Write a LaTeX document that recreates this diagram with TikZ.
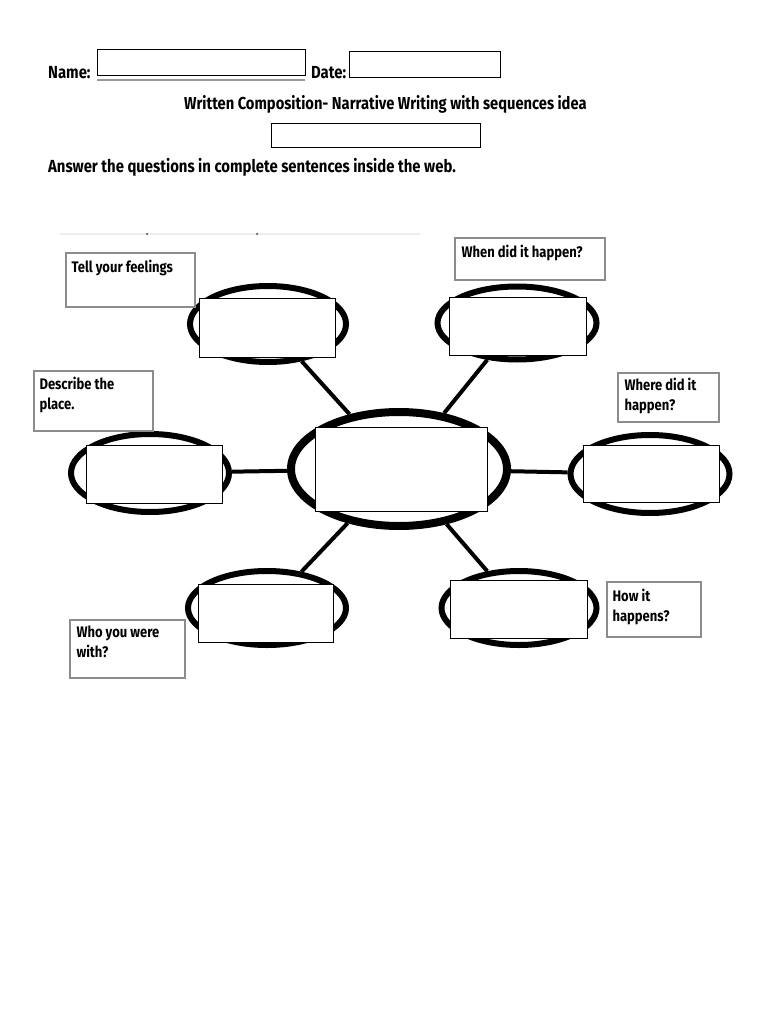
\documentclass[tikz,border=0pt]{standalone}
\usepackage{fontspec}
\setmainfont{Fira Sans}[FakeStretch=0.85]
\usetikzlibrary{shapes.geometric}
\tikzset{
  ell/.style={draw=black, ellipse, line width=6pt, fill=white, inner sep=0pt, minimum width=156pt, minimum height=76pt},
  cell/.style={ell, line width=8pt, minimum width=216pt, minimum height=114pt},
  blank/.style={draw=black, line width=1pt, fill=white, inner sep=0pt},
  qbox/.style={draw=black!45, line width=1.3pt, fill=white, inner sep=0pt},
  qtext/.style={anchor=north west, align=left, inner sep=0pt, font=\bfseries\fontsize{15.3}{20}\selectfont},
  htext/.style={inner sep=0pt, font=\bfseries\fontsize{17.5}{20}\selectfont},
  conn/.style={line width=4pt, draw=black},
}
\begin{document}
\begin{tikzpicture}[x=1pt,y=-1pt]
\useasboundingbox[fill=white] (0,0) rectangle (768,1024);
% header
\node[htext, anchor=west] (name) at (48,73) {Name:};
\node[blank, minimum width=208pt, minimum height=26pt] (namebox) at (201,63) {};
\coordinate (ulA) at (97,80);
\coordinate (ulB) at (305,80);
\draw[black!40, line width=1.5pt] (ulA) -- (ulB);
\node[htext, anchor=west] (date) at (311,73) {Date:};
\node[blank, minimum width=151pt, minimum height=26pt] (datebox) at (424.5,65) {};
\node[htext, anchor=west, font=\bfseries\fontsize{17.3}{20}\selectfont] (title) at (184,104) {Written Composition- Narrative Writing with sequences idea};
\node[blank, minimum width=209pt, minimum height=24pt] (titlebox) at (375.5,136) {};
\node[htext, anchor=west] (answer) at (48,167) {Answer the questions in complete sentences inside the web.};
% faint rule
\coordinate (fA) at (60,234);
\coordinate (fB) at (420,234);
\draw[black!7, line width=1pt] (fA) -- (fB);
\node[circle, fill=black!60, inner sep=0pt, minimum size=2.5pt] (dot1) at (147,234) {};
\node[circle, fill=black!60, inner sep=0pt, minimum size=2.5pt] (dot2) at (257,234) {};
% ellipses
\node[cell] (c) at (399,469) {};
\node[ell] (tl) at (268,324) {};
\node[ell, minimum width=159pt, minimum height=73pt] (tr) at (517,323) {};
\node[ell, minimum width=158pt, minimum height=78pt] (l) at (150,473) {};
\node[ell, minimum width=159pt, minimum height=78pt] (r) at (650,474) {};
\node[ell, minimum width=158pt, minimum height=74pt] (bl) at (267,608) {};
\node[ell, minimum width=155pt, minimum height=74pt] (br) at (519,608) {};
% connectors
\draw[conn] (c) -- (tl);
\draw[conn] (c) -- (tr);
\draw[conn] (c) -- (l);
\draw[conn] (c) -- (r);
\draw[conn] (c) -- (bl);
\draw[conn] (c) -- (br);
% blank answer boxes
\node[blank, minimum width=136pt, minimum height=59pt] (tlb) at (267,327.5) {};
\node[blank, minimum width=137pt, minimum height=58pt] (trb) at (517.5,326) {};
\node[blank, minimum width=136pt, minimum height=58pt] (lb) at (154,474) {};
\node[blank, minimum width=136pt, minimum height=57pt] (rb) at (651,473.5) {};
\node[blank, minimum width=172pt, minimum height=84pt] (cb) at (401,469) {};
\node[blank, minimum width=135pt, minimum height=58pt] (blb) at (265.5,613) {};
\node[blank, minimum width=137pt, minimum height=58pt] (brb) at (518.5,609) {};
% question boxes
\node[qbox, minimum width=129pt, minimum height=54pt] (feel) at (130.5,280) {};
\node[qtext] (feelT) at ([xshift=6pt,yshift=-8pt]feel.north west) {Tell your feelings};
\node[qbox, minimum width=150pt, minimum height=42pt] (when) at (530,259) {};
\node[qtext] (whenT) at ([xshift=7pt,yshift=-8pt]when.north west) {When did it happen?};
\node[qbox, minimum width=119pt, minimum height=60pt] (place) at (93.5,401) {};
\node[qtext] (placeT) at ([xshift=6pt,yshift=-7pt]place.north west) {Describe the\\place.};
\node[qbox, minimum width=101pt, minimum height=49pt] (where) at (668.5,397.5) {};
\node[qtext] (whereT) at ([xshift=7pt,yshift=-6pt]where.north west) {Where did it\\happen?};
\node[qbox, minimum width=115pt, minimum height=58pt] (who) at (127.5,649) {};
\node[qtext] (whoT) at ([xshift=7pt,yshift=-6pt]who.north west) {Who you were\\with?};
\node[qbox, minimum width=94pt, minimum height=55pt] (how) at (654,609.5) {};
\node[qtext] (howT) at ([xshift=6pt,yshift=-8pt]how.north west) {How it\\happens?};
\end{tikzpicture}
\end{document}
